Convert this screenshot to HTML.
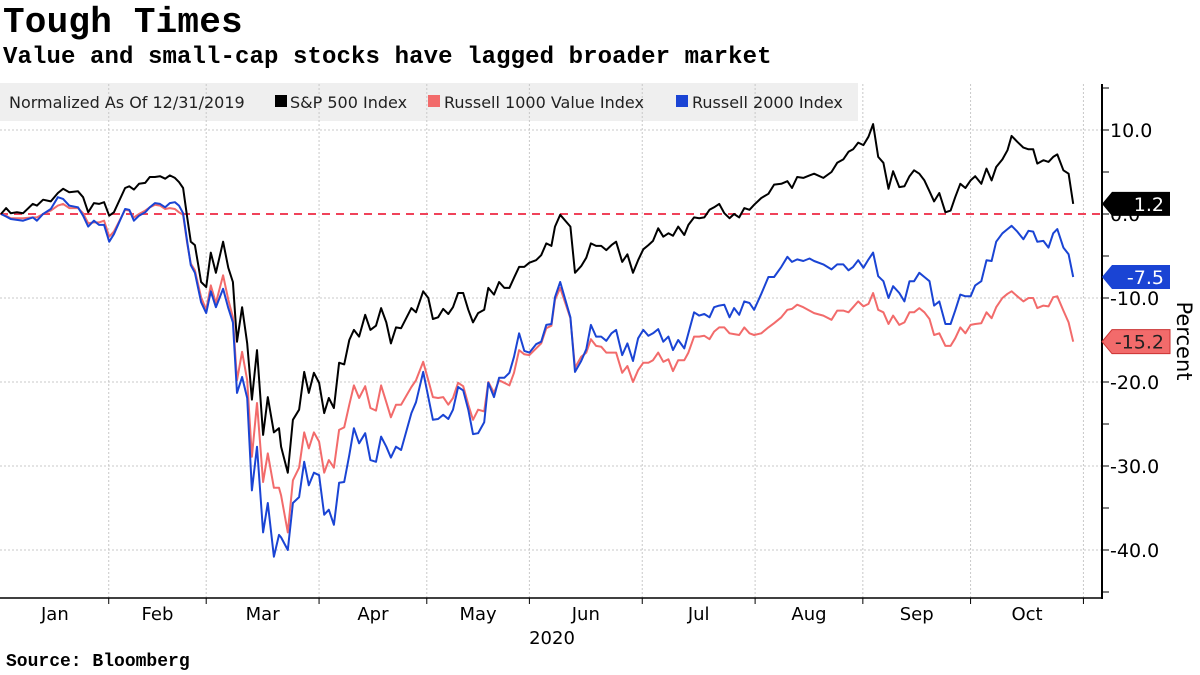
<!DOCTYPE html>
<html><head><meta charset="utf-8"><style>
body{margin:0;background:#fff;width:1200px;height:675px;overflow:hidden;font-family:"DejaVu Sans","Liberation Sans",sans-serif}
#title{position:absolute;left:3px;top:2px;font:bold 36px "Liberation Mono",monospace;color:#000;letter-spacing:0.2px}
#sub{position:absolute;left:3px;top:44px;font:bold 24px "Liberation Mono",monospace;color:#000;letter-spacing:0.1px}
#src{position:absolute;left:6px;top:652px;font:bold 18px "Liberation Mono",monospace;color:#000}
svg{position:absolute;left:0;top:0}
</style></head><body>
<div id="title">Tough Times</div>
<div id="sub">Value and small-cap stocks have lagged broader market</div>
<div id="src">Source: Bloomberg</div>
<svg id="chart" width="1200" height="675"></svg>
<script>
// trading-day index since 12/31/2019
const days = [0,1,1.9,3.1,4.3,6.2,7,8.2,9.7,11.1,12.1,13.3,15,16,17,18.1,19.1,20.1,21.1,22,
24.2,25,25.9,26.9,28.1,29,30,31,32,32.9,33.9,34.7,35.5,36.3,37,37.8,39,40,40.9,41.9,
43.3,44.3,45.2,46,47,48,48.9,49.9,51.1,52,53.2,54.2,54.6,55.9,56.9,58.1,59.1,60,61,62,
63,63.9,64.9,65.9,66.9,67.9,68.8,69.8,71,72,73.1,74.1,75.1,76,77,78,80,80.9,82.3,83.3,
84.2,85.2,86.2,87.2,88.1,89.1,90.1,91.1,92,93,94.2,95,96.1,97.1,98.1,99.1,100,101,102,103,
104.3,105.3,106.3,107.3,108,109,111,111.9,113.1,114.1,115,116,117,118,119,119.9,121.1,122.1,123.2,124.2,
125.2,126.2,127.1,128.1,129.1,130.1,131,132,133.2,134,135.1,136.1,137.1,138.1,139,140,141,142,142.9,143.9,
144.9,145.9,146.8,148.2,149.6,150.7,152.1,153.3,154.2,155.2,156.4,157.6,158.5,160.3,161.9,163,164.2,165.2,166.1,167.1,
168.1,169.1,170,171,172,173,173.9,175.1,176.1,177.1,178,179,180,181,181.9,182.9,184.1,185.1,186,187,
188,189,189.9,191.1,192.1,193.1,194,195.2,196.2,197,198.1,199.3,200.3,201.2,202,203.2,204.2,205.1,205.9,207.1,208.1,209];
const spx = [0,0.7,0.1,0.2,0.1,1.2,1.0,1.7,1.5,2.5,3.0,2.6,2.7,2.0,0.2,1.3,1.2,1.4,-0.2,0.2,
3.1,3.3,2.9,3.6,3.7,4.4,4.4,4.5,4.2,4.6,4.3,3.8,3.1,-0.4,-3.3,-3.7,-8.1,-8.7,-4.6,-7.0,
-3.3,-6.4,-8.1,-15.2,-11.1,-15.4,-22.1,-16.2,-26.3,-21.8,-26.0,-25.5,-27.7,-30.8,-24.5,-23.3,-18.8,-21.3,-18.9,-20.1,
-23.7,-21.9,-23.1,-17.7,-17.9,-15.0,-13.8,-14.6,-12.0,-13.8,-13.3,-11.2,-12.9,-15.4,-13.5,-13.6,-11.2,-11.7,-9.2,-10.0,
-12.5,-12.3,-11.3,-11.9,-11.1,-9.4,-9.4,-11.4,-12.9,-11.8,-11.4,-8.8,-9.6,-8.1,-8.8,-8.8,-7.6,-6.3,-6.3,-5.8,
-5.5,-4.9,-3.5,-3.8,-1.5,-0.1,-1.5,-7.0,-6.2,-5.2,-3.5,-3.8,-3.8,-4.3,-3.7,-3.3,-5.7,-4.8,-7.0,-5.5,
-4.2,-3.7,-3.2,-1.7,-2.7,-2.3,-2.6,-1.5,-2.5,-1.3,-0.4,-0.5,-0.4,0.5,0.8,1.2,0.1,-0.5,0,-0.4,
0.7,0.5,1.1,1.9,2.4,3.5,3.6,3.9,3.1,4.4,4.3,4.6,4.8,4.3,5.0,6.1,6.5,7.4,7.7,8.5,
8.2,9.2,10.7,6.8,6.1,3.0,5.1,3.2,3.3,4.5,5.2,4.8,4.0,2.7,1.5,2.5,0.2,0.4,2.0,3.6,
3.1,4.0,4.5,3.6,5.4,4.0,5.6,6.5,7.6,9.3,8.6,7.9,7.7,7.7,6.0,6.4,6.2,6.8,7.1,5.2,4.8,1.2];
const value = [0,-0.2,-0.5,-0.5,-0.5,-0.4,-0.4,0,0.4,1.0,1.2,0.7,0.7,0.1,-1.1,-1.0,-1.0,-0.8,-2.7,-2.1,
0.5,0.4,-0.4,0,0.4,0.8,1.1,1.0,0.6,0.7,0.6,0.2,-0.1,-3.5,-5.9,-6.7,-9.9,-11.4,-8.5,-10.6,
-7.3,-10.2,-12.3,-19.8,-16.4,-19.8,-28.9,-22.5,-31.9,-28.5,-32.6,-32.6,-33.5,-37.9,-31.7,-30.2,-26,-27.9,-26,-27.1,
-30.8,-29.3,-30.2,-25.7,-25.4,-22.7,-20.4,-21.9,-20.5,-23.1,-23.4,-20.4,-22.4,-24.2,-22.7,-22.7,-20.6,-19.8,-17.6,-19.8,
-21.8,-21.9,-21.8,-22.7,-21.9,-20.1,-20.5,-22.7,-24.5,-23.3,-23.5,-20,-21.3,-19.8,-20.1,-20.4,-18.9,-16.2,-16.7,-16.8,
-16.0,-15.4,-13.6,-13.3,-10.2,-8.8,-12.4,-18.3,-17,-16.5,-14.9,-15.7,-15.8,-16.5,-16.5,-16.5,-18.9,-18.1,-20,-18.6,
-17.7,-17.7,-17.4,-16.5,-17.6,-17.3,-18.7,-17.4,-17.4,-16.5,-14.6,-14.6,-14.5,-14.9,-14,-13.5,-13.5,-14.2,-14.3,-14.4,
-13.5,-14.2,-14.4,-14.2,-13.5,-13,-12.3,-11.4,-11.3,-10.8,-11.1,-11.5,-11.8,-12.1,-12.6,-11.5,-11.5,-11.7,-11.1,-10.4,
-11.0,-10.7,-9.4,-11.4,-11.7,-13.1,-12.1,-13.2,-12.9,-11.7,-11.7,-11.2,-11.7,-12.5,-14.4,-14.2,-15.7,-15.7,-14.8,-13.5,
-14.2,-13.2,-13.1,-13,-11.7,-12.4,-11.1,-10,-9.5,-9.2,-9.8,-10.4,-10,-10,-11.2,-10.9,-11,-9.9,-9.8,-11.5,-12.9,-15.2];
const small = [0,-0.3,-0.6,-0.7,-0.8,-0.4,-0.8,0,0.6,2.0,1.8,1.0,0.8,-0.2,-1.5,-0.8,-1.3,-1.3,-3.3,-2.4,
0.6,0.5,-0.8,-0.2,0.2,0.8,1.3,1.2,0.8,1.3,1.4,1.0,0.1,-3.3,-6.1,-7.0,-10.5,-11.8,-9.2,-11.1,
-8.9,-11.2,-12.9,-21.3,-19.4,-21.9,-32.9,-27.7,-37.9,-34.4,-40.8,-38.2,-38.5,-40,-34.4,-33.7,-29.5,-32.3,-30.8,-31.1,
-35.8,-35.2,-37,-32,-31.9,-28.7,-25.5,-27.3,-26.1,-29.3,-29.5,-26.5,-27.7,-29.0,-27.7,-28.1,-23.7,-22.4,-18.8,-21.8,
-24.5,-24.4,-23.9,-24.4,-23.3,-20.6,-21.0,-23.3,-26.2,-26.1,-24.8,-20.1,-21.8,-19.5,-19.5,-18.9,-17,-14.2,-16.3,-16.5,
-15.5,-15.2,-13.2,-13.1,-9.9,-8.1,-12.3,-18.8,-17.5,-16.1,-13.2,-14.6,-14.6,-15.1,-14.2,-13.8,-16.8,-15.4,-17.5,-14.8,
-13.8,-14.5,-14.2,-13.7,-15.2,-14.6,-16.2,-15,-16,-14.2,-11.7,-12.1,-11.9,-12.3,-11.1,-10.9,-10.8,-12.3,-11.2,-12.0,
-10.4,-10.6,-11.4,-9.5,-7.5,-7.5,-6.3,-5.1,-5.7,-5.4,-5.6,-5.3,-5.6,-6.0,-6.6,-6.0,-6.0,-6.7,-6.3,-5.5,
-6.4,-5.4,-4.6,-7.4,-8.0,-10,-8.6,-9.4,-10.4,-8.0,-8.0,-7.0,-7.5,-8.0,-10.9,-10.4,-13.1,-13.1,-11.5,-9.6,
-9.8,-9.8,-8.5,-8.0,-5.5,-5.6,-3.3,-2.3,-1.8,-1.4,-2.1,-3.0,-2.0,-2.1,-3.3,-3.2,-4.0,-2.3,-1.8,-4.0,-4.8,-7.5];
const yTicks = [10,0,-10,-20,-30,-40];
const yTickLabels = ["10.0","0.0","-10.0","-20.0","-30.0","-40.0"];
const monthStarts = [0,21,40,62,83,103,125,147,168,189,211];
const monthLabels = ["Jan","Feb","Mar","Apr","May","Jun","Jul","Aug","Sep","Oct"];

const NS="http://www.w3.org/2000/svg";
const svg=document.getElementById('chart');
const X0=1, DX=5.13, AXR=1102, AXB=598, Y0=214, DY=8.4;
const xs=d=>X0+d*DX;
const ys=v=>Y0-v*DY;
function mk(tag,attrs,parent){const e=document.createElementNS(NS,tag);for(const k in attrs)e.setAttribute(k,attrs[k]);(parent||svg).appendChild(e);return e;}

let lg=mk('rect',{x:0,y:83,width:858,height:38,fill:'#efefef'});



yTicks.forEach(v=>{ if(v===0) return;
  const g=mk('line',{x1:0,x2:AXR,y1:ys(v),y2:ys(v),stroke:'#c8c8c8','stroke-dasharray':'2,2','stroke-width':1});
  
  
});
monthStarts.forEach(d=>{ if(d===0) return;
  const g=mk('line',{x1:xs(d),x2:xs(d),y1:84,y2:AXB,stroke:'#c8c8c8','stroke-dasharray':'2,2','stroke-width':1});
  
  
  const t=mk('line',{x1:xs(d),x2:xs(d),y1:AXB,y2:AXB+6,stroke:'#000','stroke-width':1});
  
  
});
const zl=mk('line',{x1:0,x2:AXR,y1:ys(0),y2:ys(0),stroke:'#f0435a','stroke-dasharray':'8,6','stroke-width':2});



function series(vals,color,name){
  const n=Math.min(days.length,vals.length);
  let d='';
  for(let i=0;i<n;i++) d+=(i?'L':'M')+xs(days[i]).toFixed(1)+','+ys(vals[i]).toFixed(1);
  const p=mk('path',{d:d,fill:'none',stroke:color,'stroke-width':2,'stroke-linejoin':'round'});
  
  
}
series(value,'#f26b6b','russell-1000-value-line');
series(small,'#1a44d4','russell-2000-line');
series(spx,'#000000','sp500-line');

const ax=mk('line',{x1:AXR,x2:AXR,y1:84,y2:AXB+1,stroke:'#000','stroke-width':2});


const bx=mk('line',{x1:0,x2:AXR,y1:AXB,y2:AXB,stroke:'#000','stroke-width':1.5});


for(let v=15;v>=-45;v-=5){
  const t=mk('line',{x1:AXR,x2:AXR+7,y1:ys(v),y2:ys(v),stroke:'#000','stroke-width':1});
  
  
}
yTicks.forEach((v,i)=>{
  const t=mk('text',{x:AXR+8,y:ys(v)+7,'font-size':19,'font-family':'DejaVu Sans, sans-serif',fill:'#000'});
  t.textContent=yTickLabels[i];
  
  
});
monthLabels.forEach((m,i)=>{
  const t=mk('text',{x:(xs(monthStarts[i])+xs(monthStarts[i+1]))/2,y:620,'font-size':18,'text-anchor':'middle','font-family':'DejaVu Sans, sans-serif',fill:'#000'});
  t.textContent=m;
  
  
});
const yr=mk('text',{x:552,y:644,'font-size':18,'text-anchor':'middle','font-family':'DejaVu Sans, sans-serif',fill:'#000'});
yr.textContent='2020';


const pt=mk('text',{x:0,y:0,'font-size':21,'text-anchor':'middle','font-family':'DejaVu Sans, sans-serif',fill:'#000',transform:'translate(1177,341) rotate(90)'});
pt.textContent='Percent';



function tag(v,bg,fg,name){
  const y=ys(v);
  const g=mk('g',{});
  
  
  mk('path',{d:`M${AXR},${y} L${AXR+10},${y-12} L1170,${y-12} L1170,${y+12} L${AXR+10},${y+12} Z`,fill:bg,stroke:bg==='#f26b6b'?'#c33':'none'},g);
  const t=mk('text',{x:1164,y:y+7,'font-size':19,'text-anchor':'end','font-family':'DejaVu Sans, sans-serif',fill:fg},g);
  t.textContent=v.toFixed(1);
}
tag(spx[spx.length-1],'#000','#fff','sp500-end-label');
tag(small[small.length-1],'#1a44d4','#fff','russell-2000-end-label');
tag(value[value.length-1],'#f26b6b','#222','russell-1000-value-end-label');

function ltext(x,s,name){const t=mk('text',{x:x,y:108,'font-size':16,'font-family':'DejaVu Sans, sans-serif',fill:'#222'});t.textContent=s;}
ltext(9,'Normalized As Of 12/31/2019','legend-caption');
function lsw(x,c,name){const r=mk('rect',{x:x,y:95,width:12,height:12,fill:c});}
lsw(275,'#000','legend-swatch-sp500');
ltext(290,'S&P 500 Index','legend-entry-sp500');
lsw(428,'#f26b6b','legend-swatch-value');
ltext(444,'Russell 1000 Value Index','legend-entry-value');
lsw(676,'#1a44d4','legend-swatch-small-cap');
ltext(692,'Russell 2000 Index','legend-entry-small-cap');
</script>
</body></html>
